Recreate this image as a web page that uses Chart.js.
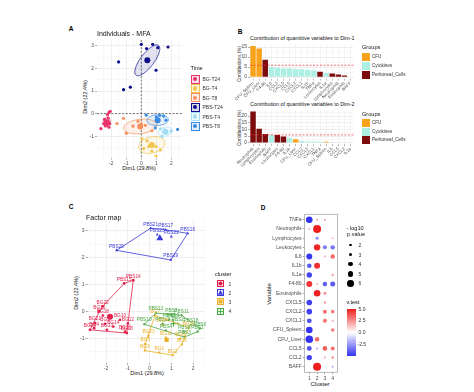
<!DOCTYPE html>
<html>
<head>
<meta charset="utf-8">
<title>MFA figure</title>
<script src="https://cdn.jsdelivr.net/npm/chart.js@4.4.1/dist/chart.umd.min.js"></script>
<style>
  body { margin: 0; background: #fff; }
  #page { position: relative; width: 474px; height: 392px; overflow: hidden; font-family: "Liberation Sans", Arial, sans-serif; color: #1a1a1a; }
  .box { position: absolute; }
  .t { position: absolute; white-space: nowrap; line-height: 1; transform: translateY(-50%); }
  .c { transform: translate(-50%, -50%); }
  .rot { transform: translate(-50%, -50%) rotate(-90deg); }
  .lbl { font-weight: bold; font-size: 6.5px; color: #000; }
  .ttl { font-size: 7px; color: #111; opacity: 0.999; will-change: transform; }
  .sub { font-size: 5.4px; color: #111; }
  .ax { font-size: 5.5px; color: #111; }
  .lg { font-size: 5px; color: #333; }
  .lgt { font-size: 5.6px; color: #111; }
  .key { position: absolute; box-sizing: border-box; }
  svg { display: block; }
</style>
</head>
<body>
<div id="page">
  <!-- panel letters and titles -->
  <div class="t c lbl" style="left:71px;top:29px">A</div>
  <div class="t c lbl" style="left:240px;top:32px">B</div>
  <div class="t c lbl" style="left:71px;top:207px">C</div>
  <div class="t c lbl" style="left:263px;top:208px">D</div>

  <div class="t ttl" style="left:97px;top:32.5px">Individuals - MFA</div>
  <div class="t sub" style="left:250px;top:39px">Contribution of quantitive variables to Dim-1</div>
  <div class="t sub" style="left:250px;top:105px">Contribution of quantitive variables to Dim-2</div>
  <div class="t ttl" style="left:86px;top:217px">Factor map</div>

  <!-- axis titles -->
  <div class="t c ax" style="left:139px;top:168.5px">Dim1 (29.8%)</div>
  <div class="t rot ax" style="left:86px;top:97px">Dim2 (22.4%)</div>
  <div class="t rot lg" style="left:240px;top:64px;font-size:4.7px">Contributions (%)</div>
  <div class="t rot lg" style="left:240px;top:128px;font-size:4.7px">Contributions (%)</div>
  <div class="t c ax" style="left:147px;top:374px">Dim1 (29.8%)</div>
  <div class="t rot ax" style="left:77px;top:293px">Dim2 (22.4%)</div>
  <div class="t c ax" style="left:320px;top:384px;font-size:6px">Cluster</div>
  <div class="t rot ax" style="left:269px;top:294px;font-size:6px">Variable</div>

  <!-- charts -->
  <div class="box" style="left:60px;top:30px;width:130px;height:160px"><canvas id="chartA" width="130" height="160"></canvas></div>
  <div class="box" style="left:225px;top:36px;width:142px;height:72px"><canvas id="chartB1" width="142" height="72"></canvas></div>
  <div class="box" style="left:225px;top:102px;width:142px;height:76px"><canvas id="chartB2" width="142" height="76"></canvas></div>
  <div class="box" style="left:60px;top:210px;width:150px;height:170px"><canvas id="chartC" width="150" height="170"></canvas></div>
  <div class="box" style="left:262px;top:205px;width:80px;height:180px"><canvas id="chartD" width="80" height="180"></canvas></div>

  <!-- legends -->
  <div class="t lgt" style="left:190.5px;top:68.5px">Time</div>
  <div id="legendA"></div>

  <div class="t lgt" style="left:362px;top:48px">Groups</div>
  <div id="legendB1"></div>
  <div class="t lgt" style="left:362px;top:114.5px">Groups</div>
  <div id="legendB2"></div>

  <div class="t lgt" style="left:215px;top:275px">cluster</div>
  <div id="legendC"></div>

  <div class="t lgt" style="left:346.5px;top:228.5px">- log10</div>
  <div class="t lgt" style="left:347px;top:234.5px">p.value</div>
  <div id="legendD"></div>
  <div class="t lgt" style="left:346.5px;top:303px">v.test</div>
  <div class="key" style="left:346.5px;top:308.5px;width:9.5px;height:47.5px;background:linear-gradient(to bottom, rgb(238,30,30) 0%, #fff 49.7%, rgb(52,52,240) 100%)"></div>
  <div class="t lg" style="left:358.5px;top:308.5px">5.0</div>
  <div class="t lg" style="left:358.5px;top:320.3px">2.5</div>
  <div class="t lg" style="left:358.5px;top:332px">0.0</div>
  <div class="t lg" style="left:357.5px;top:344.2px">-2.5</div>
</div>

<script>
// ---- PANEL A : individuals - MFA ----
const timeGroups = ["BG-T24", "BG-T4", "BG-T8", "PBS-T24", "PBS-T4", "PBS-T8"];
const timeColors = ["#E8336B", "#F2C64E", "#F4915E", "#0D0D8A", "#A3DFF2", "#3A8BE3"];

const bgT24_x = [-2.07, -2.15, -2.25, -2.2, -2.45, -2.3, -2.38, -2.2, -2.28, -2.4, -2.15, -2.69, -2.1, -2.5];
const bgT24_y = [0.1, 0.05, -0.05, -0.2, -0.25, -0.33, -0.4, -0.38, -0.5, -0.55, -0.6, -0.67, -0.45, -0.45];
const bgT4_x = [0.04, 0.38, 0.16, 0.98, 1.27, 0.7, 0.98, 0.5];
const bgT4_y = [-1.12, -1.21, -1.55, -1.46, -1.61, -1.66, -1.88, -1.45];
const bgT8_x = [-1.62, -1.18, -1.0, -0.22, -0.55, 0.27, 0.71, 0.0];
const bgT8_y = [-0.44, -0.21, -0.87, -0.34, -0.56, -0.52, -0.76, -0.45];
const pbsT24_x = [0.0, 0.76, 0.35, 1.1, 1.78, -1.51, 0.98, -0.73, -1.18];
const pbsT24_y = [3.07, 3.07, 2.88, 2.92, 2.95, 2.29, 1.92, 1.17, 1.06];
const pbsT4_x = [1.27, 1.49, 1.71, 1.98, 1.38, 1.55];
const pbsT4_y = [-0.68, -0.81, -0.85, -0.78, -1.01, -0.72];
const pbsT8_x = [0.33, 1.0, 1.22, 1.49, 1.64, 1.1, 0.93, 2.42];
const pbsT8_y = [-0.07, -0.15, -0.08, -0.11, -0.29, -0.36, -0.63, -0.7];

// group means (big points) and ellipse half axes, same order as timeGroups
const centroid_x = [-2.3, 0.7, -0.07, 0.4, 1.6, 1.09];
const centroid_y = [-0.38, -1.39, -0.57, 2.36, -0.8, -0.29];
const ellU_x = [0.25, 0.88, 1.1, 0.75, 0.47, 0.72];
const ellU_y = [0.0, 0.1, 0.08, 0.66, 0.05, 0.02];
const ellV_x = [0, -0.04, -0.02, 0.36, 0, 0];
const ellV_y = [0.2, 0.36, 0.32, -0.18, 0.2, 0.24];

// ---- PANEL B : contributions ----
const contribGroups = ["CFU", "Cytokines", "Peritoneal_Cells"];
const contribColors = ["#F7A21B", "#AEEFE3", "#7D0C0C"];
const expectedContrib = 5.88;

const dim1_vars = ["CFU_Spleen", "CFU_Liver", "F4-80", "IL6", "CCL2", "CXCL5", "CCL5", "CXCL2", "CXCL1", "IL1b", "TNFa", "Leukocytes", "IL1a", "Lymphocytes", "Neutrophils", "Eosinophils", "BAFF"];
const dim1_contrib = [15.5, 14.2, 8.6, 5.0, 4.6, 4.3, 4.2, 4.0, 3.9, 3.6, 3.2, 2.6, 2.0, 1.8, 1.3, 0.7, 0.1];
const dim1_group = ["CFU", "CFU", "Peritoneal_Cells", "Cytokines", "Cytokines", "Cytokines", "Cytokines", "Cytokines", "Cytokines", "Cytokines", "Cytokines", "Peritoneal_Cells", "Cytokines", "Peritoneal_Cells", "Peritoneal_Cells", "Peritoneal_Cells", "Cytokines"];

const dim2_vars = ["Neutrophils", "Lymphocytes", "Eosinophils", "BAFF", "Leukocytes", "F4-80", "IL1b", "CFU_Liver", "CCL2", "CXCL5", "CXCL1", "TNFa", "CFU_Spleen", "IL6", "CCL5", "CXCL2", "IL1a"];
const dim2_contrib = [23.4, 10.5, 6.5, 5.8, 5.8, 4.6, 3.6, 2.6, 1.2, 1.0, 0.9, 0.8, 0.7, 0.3, 0.2, 0.15, 0.1];
const dim2_group = ["Peritoneal_Cells", "Peritoneal_Cells", "Peritoneal_Cells", "Cytokines", "Peritoneal_Cells", "Peritoneal_Cells", "Cytokines", "CFU", "Cytokines", "Cytokines", "Cytokines", "Cytokines", "CFU", "Cytokines", "Cytokines", "Cytokines", "Cytokines"];

// ---- PANEL C : factor map ----
const clusterNames = ["1", "2", "3", "4"];
const clusterColors = ["#E3214B", "#3B3BDB", "#EAB12B", "#47A842"];
const clusterShapes = ["circle", "triangle", "rect", "cross"];

const c1_lab = ["PBS14", "PBS15", "BG22", "BG15", "BG18", "BG21", "BG9", "BG4", "BG14", "BG10", "BG12", "BG16", "BG20", "BG17", "BG13"];
const c1_x = [-0.75, -1.17, -2.16, -2.31, -2.15, -2.51, -2.05, -2.55, -1.67, -1.36, -1.0, -1.13, -2.74, -1.96, -1.05];
const c1_y = [1.16, 1.04, 0.19, 0.0, -0.15, -0.43, -0.46, -0.62, -0.56, -0.31, -0.45, -0.75, -0.68, -0.68, -0.8];
const c2_lab = ["PBS21", "PBS17", "PBS16", "PBS22", "PBS23", "PBS20", "PBS19"];
const c2_x = [0.05, 0.74, 1.75, 1.0, 0.35, -1.52, 0.97];
const c2_y = [3.09, 3.03, 2.9, 2.78, 2.85, 2.27, 1.91];
const c3_lab = ["BG7", "BG23", "BG5", "BG3", "BG1", "BG2", "BG6", "BG8", "BG11", "BG19", "BG24"];
const c3_x = [0.25, -0.05, -0.2, -0.22, 0.45, 1.06, 1.48, 1.4, 0.75, 1.8, 0.6];
const c3_y = [-0.15, -0.9, -1.2, -1.45, -1.52, -1.62, -1.22, -1.0, -0.96, -0.6, -0.5];
const c4_lab = ["PBS12", "PBS7", "PBS11", "PBS6", "PBS1", "PBS8", "PBS3", "PBS9", "PBS5", "PBS13", "PBS10", "PBS4", "PBS2", "PBS18"];
const c4_x = [0.29, 1.0, 1.47, 2.32, 2.2, 1.59, 1.6, 1.08, 0.9, 0.6, -0.25, 0.75, 1.3, 1.9];
const c4_y = [-0.06, -0.12, -0.14, -0.63, -0.75, -0.75, -0.95, -0.32, -0.3, -0.45, -0.47, -0.7, -0.45, -0.5];
const clusterCenter_x = [-1.82, 0.47, 0.78, 1.1];
const clusterCenter_y = [-0.19, 2.72, -1.05, -0.45];

// ---- PANEL D : variables by cluster ----
const dVars = ["TNFa", "Neutrophils", "Lymphocytes", "Leukocytes", "IL6", "IL1b", "IL1a", "F4-80", "Eosinophils", "CXCL5", "CXCL2", "CXCL1", "CFU_Spleen", "CFU_Liver", "CCL5", "CCL2", "BAFF"];
// -log10 p.value per cluster (null = not shown)
const logp1 = [6.0, 1.2, null, null, 5.4, 4.0, 4.8, 5.4, null, 5.0, 5.0, 4.2, 6.0, 7.0, 4.2, 4.8, null];
const logp2 = [1.4, 7.4, 2.6, 5.8, null, 5.4, null, 1.4, 6.0, null, null, null, null, 3.8, 1.4, null, 7.4];
const logp3 = [1.4, null, null, 3.4, 1.3, null, null, 4.0, 2.4, 1.8, 3.4, 3.4, null, null, 4.0, 1.4, null];
const logp4 = [null, null, 1.2, 3.8, 3.8, null, 1.8, 4.4, null, null, 3.0, 1.4, 3.0, null, 3.4, 2.0, 1.4];
// v.test per cluster
const vt1 = [-5.0, 1.8, null, null, -4.8, -4.0, -4.5, 4.6, null, -4.6, -4.6, -4.2, -5.0, -5.2, -4.2, -4.5, null];
const vt2 = [2.0, 5.2, -2.6, 4.9, null, 4.7, null, 1.9, 5.0, null, null, null, null, 3.4, -2.0, null, 5.2];
const vt3 = [2.2, null, null, -3.2, 1.9, null, null, -3.8, 2.5, 2.2, 3.2, 3.2, null, null, 3.6, 2.0, null];
const vt4 = [null, null, 1.8, -3.3, 3.3, null, 2.0, -3.9, null, null, 3.0, 2.0, 3.0, null, 3.2, 2.3, -2.0];
const sizeBreaks = [2, 3, 4, 5, 6];


Chart.defaults.font.family = "'Liberation Sans', Arial, sans-serif";
Chart.defaults.font.size = 5;
Chart.defaults.color = "#4D4D4D";
Chart.defaults.animation = false;
Chart.defaults.events = [];
Chart.defaults.plugins.legend.display = false;
Chart.defaults.plugins.tooltip.enabled = false;

function toPoints(xs, ys) {
  return xs.map((x, i) => ({ x: x, y: ys[i] }));
}

function isWhole(v, step) {
  return Math.abs(v / step - Math.round(v / step)) < 1e-6;
}

function stepTicks(step) {
  return function (scale) {
    const out = [];
    for (let v = Math.ceil(scale.min / step - 1e-9) * step; v <= scale.max + 1e-9; v += step) {
      out.push({ value: Math.round(v * 1000) / 1000 });
    }
    scale.ticks = out;
  };
}

// linear axis in the ggplot minimal look: major grid on whole numbers, minor in between
function gridAxis(min, max, minor, major, box, horizontal) {
  return {
    type: "linear",
    min: min,
    max: max,
    afterBuildTicks: stepTicks(minor),
    afterFit: function (s) {
      if (horizontal) s.height = box; else s.width = box;
    },
    border: { display: false },
    grid: {
      color: c => (c.tick && isWhole(c.tick.value, major)) ? "#E4E4E4" : "#F2F2F2",
      lineWidth: 0.6,
      tickLength: 2,
      tickWidth: 0.5,
      tickColor: c => (c.tick && isWhole(c.tick.value, major)) ? "#666" : "rgba(0,0,0,0)"
    },
    ticks: {
      padding: 1,
      autoSkip: false,
      maxRotation: 0,
      color: "#4D4D4D",
      font: { size: 5 },
      callback: v => isWhole(v, major) ? String(v) : ""
    }
  };
}

// ellipses drawn in data space through the scales
function ellipsePlugin(cx, cy, ux, uy, vx, vy, colors) {
  return {
    id: "ellipses",
    beforeDatasetsDraw(chart) {
      const { ctx, chartArea, scales: { x, y } } = chart;
      ctx.save();
      ctx.beginPath();
      ctx.rect(chartArea.left, chartArea.top, chartArea.width, chartArea.height);
      ctx.clip();
      cx.forEach((c, i) => {
        const px = x.getPixelForValue(c), py = y.getPixelForValue(cy[i]);
        const ax = x.getPixelForValue(c + ux[i]) - px, ay = y.getPixelForValue(cy[i] + uy[i]) - py;
        const bx = x.getPixelForValue(c + vx[i]) - px, by = y.getPixelForValue(cy[i] + vy[i]) - py;
        ctx.beginPath();
        for (let k = 0; k <= 72; k++) {
          const t = k / 72 * Math.PI * 2;
          const qx = px + ax * Math.cos(t) + bx * Math.sin(t);
          const qy = py + ay * Math.cos(t) + by * Math.sin(t);
          if (k === 0) ctx.moveTo(qx, qy); else ctx.lineTo(qx, qy);
        }
        ctx.closePath();
        ctx.globalAlpha = 0.12;
        ctx.fillStyle = colors[i];
        ctx.fill();
        ctx.globalAlpha = 1;
        ctx.strokeStyle = colors[i];
        ctx.lineWidth = 0.7;
        ctx.stroke();
      });
      // dashed zero lines
      ctx.setLineDash([2, 1.6]);
      ctx.strokeStyle = "#222";
      ctx.lineWidth = 0.6;
      const x0 = x.getPixelForValue(0), y0 = y.getPixelForValue(0);
      ctx.beginPath();
      ctx.moveTo(x0, chartArea.top); ctx.lineTo(x0, chartArea.bottom);
      ctx.moveTo(chartArea.left, y0); ctx.lineTo(chartArea.right, y0);
      ctx.stroke();
      ctx.restore();
    }
  };
}

// dashed expected-contribution line
function refLinePlugin(value) {
  return {
    id: "refLine",
    afterDatasetsDraw(chart) {
      const { ctx, chartArea, scales: { y } } = chart;
      const py = y.getPixelForValue(value);
      ctx.save();
      ctx.setLineDash([2, 1.5]);
      ctx.strokeStyle = "#E8333A";
      ctx.lineWidth = 0.7;
      ctx.beginPath();
      ctx.moveTo(chartArea.left, py);
      ctx.lineTo(chartArea.right, py);
      ctx.stroke();
      ctx.restore();
    }
  };
}

const pointLabelPlugin = {
  id: "pointLabels",
  afterDatasetsDraw(chart) {
    const ctx = chart.ctx;
    ctx.save();
    ctx.font = "4.8px 'Liberation Sans', Arial, sans-serif";
    ctx.textAlign = "center";
    ctx.textBaseline = "bottom";
    chart.data.datasets.forEach((ds, i) => {
      if (!ds.pointLabels) return;
      ctx.fillStyle = ds.borderColor;
      chart.getDatasetMeta(i).data.forEach((el, j) => {
        ctx.fillText(ds.pointLabels[j], el.x, el.y - 1.6);
      });
    });
    ctx.restore();
  }
};

const framePlugin = {
  id: "frame",
  afterDatasetsDraw(chart) {
    const { ctx, chartArea: a } = chart;
    ctx.save();
    ctx.strokeStyle = "#A8A8A8";
    ctx.lineWidth = 0.8;
    ctx.strokeRect(a.left, a.top, a.width, a.height);
    ctx.restore();
  }
};

function convexHull(p) {
  const s = p.slice().sort((a, b) => a.x - b.x || a.y - b.y);
  const cross = (o, a, b) => (a.x - o.x) * (b.y - o.y) - (a.y - o.y) * (b.x - o.x);
  const lo = [], up = [];
  s.forEach(q => {
    while (lo.length > 1 && cross(lo[lo.length - 2], lo[lo.length - 1], q) <= 0) lo.pop();
    lo.push(q);
  });
  s.slice().reverse().forEach(q => {
    while (up.length > 1 && cross(up[up.length - 2], up[up.length - 1], q) <= 0) up.pop();
    up.push(q);
  });
  lo.pop(); up.pop();
  const h = lo.concat(up);
  h.push(h[0]);
  return h.map(q => ({ x: q.x, y: q.y }));
}


// PANEL A
const aX = [bgT24_x, bgT4_x, bgT8_x, pbsT24_x, pbsT4_x, pbsT8_x];
const aY = [bgT24_y, bgT4_y, bgT8_y, pbsT24_y, pbsT4_y, pbsT8_y];
const aDatasets = [];
timeGroups.forEach((g, i) => {
  aDatasets.push({ label: g, data: toPoints(aX[i], aY[i]), backgroundColor: timeColors[i], borderWidth: 0, pointRadius: 1.6 });
});
timeGroups.forEach((g, i) => {
  aDatasets.push({ label: g + " mean", data: [{ x: centroid_x[i], y: centroid_y[i] }], backgroundColor: timeColors[i], borderWidth: 0, pointRadius: 3 });
});

new Chart(document.getElementById("chartA"), {
  type: "scatter",
  data: { datasets: aDatasets },
  options: {
    responsive: false,
    layout: { padding: { left: 0, top: 10, right: 8, bottom: 0 } },
    scales: {
      x: gridAxis(-2.95, 2.71, 0.5, 1, 32.4, true),
      y: gridAxis(-1.95, 3.26, 0.5, 1, 37, false)
    }
  },
  plugins: [ellipsePlugin(centroid_x, centroid_y, ellU_x, ellU_y, ellV_x, ellV_y, timeColors)]
});


// PANEL B
function contribChart(id, labels, values, groups, yMin, yMax, xBox) {
  return new Chart(document.getElementById(id), {
    type: "bar",
    data: {
      labels: labels,
      datasets: [{
        data: values,
        backgroundColor: groups.map(g => contribColors[contribGroups.indexOf(g)]),
        barPercentage: 0.9,
        categoryPercentage: 1
      }]
    },
    options: {
      responsive: false,
      layout: { padding: { left: 0, top: 8, right: 13.5, bottom: 0 } },
      scales: {
        x: {
          afterFit: s => { s.height = xBox; },
          border: { display: false },
          grid: { offset: false, color: "#EEEEEE", lineWidth: 0.6, tickLength: 2, tickColor: "#777", tickWidth: 0.5 },
          ticks: { autoSkip: false, minRotation: 45, maxRotation: 45, padding: 0, font: { size: 4.3 }, color: "#4D4D4D" }
        },
        y: gridAxis(yMin, yMax, 2.5, 5, 25, false)
      }
    },
    plugins: [refLinePlugin(expectedContrib)]
  });
}
contribChart("chartB1", dim1_vars, dim1_contrib, dim1_group, -0.8, 16.5, 29.4);
contribChart("chartB2", dim2_vars, dim2_contrib, dim2_group, -1.2, 24.6, 33.7);


// PANEL C
const cX = [c1_x, c2_x, c3_x, c4_x];
const cY = [c1_y, c2_y, c3_y, c4_y];
const cLab = [c1_lab, c2_lab, c3_lab, c4_lab];
const cDatasets = [];
clusterNames.forEach((n, i) => {
  cDatasets.push({
    data: convexHull(toPoints(cX[i], cY[i])),
    showLine: true, fill: false, borderColor: clusterColors[i], borderWidth: 0.8, pointRadius: 0
  });
});
clusterNames.forEach((n, i) => {
  cDatasets.push({
    data: toPoints(cX[i], cY[i]),
    pointLabels: cLab[i],
    pointStyle: clusterShapes[i],
    backgroundColor: clusterColors[i],
    borderColor: clusterColors[i],
    borderWidth: clusterShapes[i] === "cross" ? 0.8 : 0,
    pointRadius: clusterShapes[i] === "triangle" ? 1.7 : 1.4
  });
});
clusterNames.forEach((n, i) => {
  cDatasets.push({
    data: [{ x: clusterCenter_x[i], y: clusterCenter_y[i] }],
    pointStyle: clusterShapes[i],
    backgroundColor: clusterColors[i],
    borderColor: clusterColors[i],
    borderWidth: clusterShapes[i] === "cross" ? 1 : 0,
    pointRadius: clusterShapes[i] === "triangle" ? 4 : 3
  });
});

new Chart(document.getElementById("chartC"), {
  type: "scatter",
  data: { datasets: cDatasets },
  options: {
    responsive: false,
    layout: { padding: { left: 0, top: 9.3, right: 6, bottom: 0 } },
    scales: {
      x: gridAxis(-2.85, 2.5, 0.5, 1, 17, true),
      y: gridAxis(-1.91, 3.42, 0.5, 1, 27.6, false)
    }
  },
  plugins: [pointLabelPlugin]
});


// PANEL D
function dotRadius(p) {
  return 0.5 * p + 0.3;
}
function vColor(v) {
  const t = Math.max(-1, Math.min(1, v > 0 ? v / 5.1 : v / 4.9));
  const end = t > 0 ? [238, 30, 30] : [52, 52, 240];
  const a = Math.abs(t);
  const mix = end.map(e => Math.round(255 + (e - 255) * a));
  return "rgb(" + mix.join(",") + ")";
}
const dotData = [];
[logp1, logp2, logp3, logp4].forEach((lp, c) => {
  const vt = [vt1, vt2, vt3, vt4][c];
  lp.forEach((p, i) => {
    if (p !== null) dotData.push({ x: c + 1, y: i, r: dotRadius(p), v: vt[i] });
  });
});

new Chart(document.getElementById("chartD"), {
  type: "bubble",
  data: { datasets: [{ data: dotData, backgroundColor: c => vColor(c.raw.v), borderWidth: 0 }] },
  options: {
    responsive: false,
    layout: { padding: { left: 0, top: 9.3, right: 4.6, bottom: 0 } },
    scales: {
      x: {
        type: "linear", min: 0.4, max: 4.6,
        afterBuildTicks: stepTicks(1),
        afterFit: s => { s.height = 12.7; },
        border: { display: false },
        grid: { drawOnChartArea: false, tickLength: 2, tickColor: "#555", tickWidth: 0.5 },
        ticks: { padding: 1, font: { size: 5 }, color: "#4D4D4D" }
      },
      y: {
        type: "linear", min: -0.6, max: 16.6, reverse: true,
        afterBuildTicks: stepTicks(1),
        afterFit: s => { s.width = 42.6; },
        border: { display: false },
        grid: { drawOnChartArea: false, tickLength: 2, tickColor: "#555", tickWidth: 0.5 },
        ticks: { padding: 1, autoSkip: false, font: { size: 5 }, color: "#4D4D4D", callback: v => dVars[v] }
      }
    }
  },
  plugins: [framePlugin]
});


// LEGENDS
function addEl(parent, css, html) {
  const d = document.createElement("div");
  d.style.cssText = css;
  if (html) d.innerHTML = html;
  parent.appendChild(d);
  return d;
}
function tint(hex, a) {
  const n = parseInt(hex.slice(1), 16);
  return "rgba(" + (n >> 16) + "," + ((n >> 8) & 255) + "," + (n & 255) + "," + a + ")";
}

const legA = document.getElementById("legendA");
timeGroups.forEach((g, i) => {
  const cy = 79 + i * 9.4;
  addEl(legA, "position:absolute;left:190.7px;top:" + (cy - 4.5) + "px;width:9px;height:9px;box-sizing:border-box;border:0.8px solid " + timeColors[i] + ";background:" + tint(timeColors[i], 0.15));
  addEl(legA, "position:absolute;left:192.9px;top:" + (cy - 2.3) + "px;width:4.6px;height:4.6px;border-radius:50%;background:" + timeColors[i]);
  addEl(legA, "position:absolute;left:202.5px;top:" + cy + "px;transform:translateY(-50%);font-size:5px;line-height:1;white-space:nowrap;color:#333", g);
});

[["legendB1", [56.8, 65.7, 74.5]], ["legendB2", [123, 131.5, 139.5]]].forEach(([id, rows]) => {
  const el = document.getElementById(id);
  contribGroups.forEach((g, i) => {
    addEl(el, "position:absolute;left:362px;top:" + (rows[i] - 4) + "px;width:7.5px;height:8px;background:" + contribColors[i]);
    addEl(el, "position:absolute;left:372px;top:" + rows[i] + "px;transform:translateY(-50%);font-size:4.6px;line-height:1;white-space:nowrap;color:#333", g);
  });
});

const legC = document.getElementById("legendC");
const shapeSvg = [
  c => '<circle cx="3.5" cy="3.5" r="2.1" fill="' + c + '"/>',
  c => '<polygon points="3.5,1 6,5.7 1,5.7" fill="' + c + '"/>',
  c => '<rect x="1.5" y="1.5" width="4" height="4" fill="' + c + '"/>',
  c => '<path d="M3.5 1.2V5.8M1.2 3.5H5.8" stroke="' + c + '" stroke-width="0.9"/>'
];
clusterNames.forEach((n, i) => {
  const cy = 283.7 + i * 9.1;
  addEl(legC, "position:absolute;left:216.5px;top:" + (cy - 3.5) + "px;width:7px;height:7px;box-sizing:border-box;border:0.7px solid " + clusterColors[i] + ";background:" + tint(clusterColors[i], 0.12));
  addEl(legC, "position:absolute;left:216.5px;top:" + (cy - 3.5) + "px;width:7px;height:7px;line-height:0",
    '<svg width="7" height="7" viewBox="0 0 7 7">' + shapeSvg[i](clusterColors[i]) + "</svg>");
  addEl(legC, "position:absolute;left:228.5px;top:" + cy + "px;transform:translateY(-50%);font-size:5px;line-height:1;color:#333", n);
});

const legD = document.getElementById("legendD");
sizeBreaks.forEach((b, i) => {
  const cy = 245 + i * 9.6;
  const r = dotRadius(b);
  addEl(legD, "position:absolute;left:" + (350.3 - r) + "px;top:" + (cy - r) + "px;width:" + (2 * r) + "px;height:" + (2 * r) + "px;border-radius:50%;background:#000");
  addEl(legD, "position:absolute;left:358.5px;top:" + cy + "px;transform:translateY(-50%);font-size:5px;line-height:1;color:#333", String(b));
});
</script>
</body>
</html>
